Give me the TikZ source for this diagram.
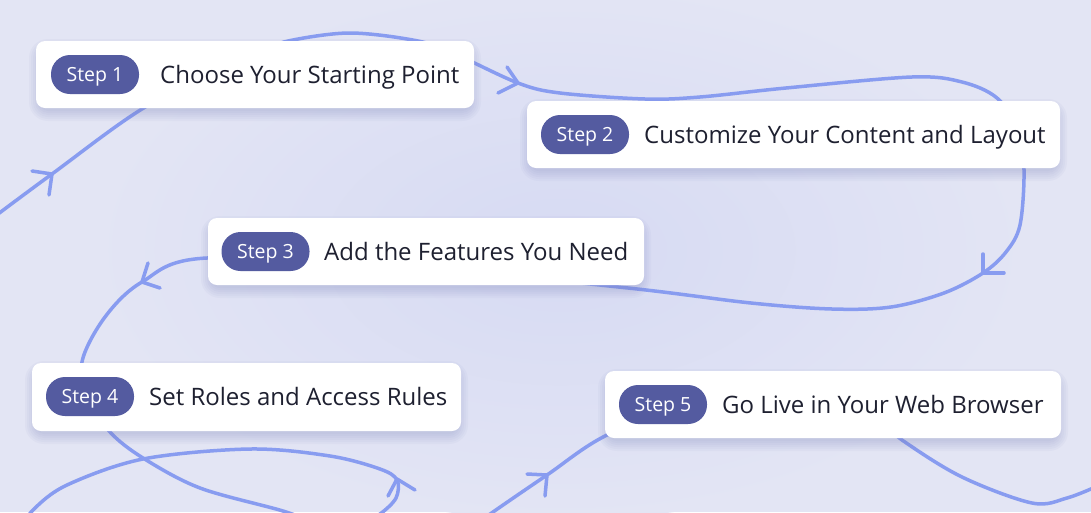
\documentclass[tikz,border=0pt]{standalone}
\usepackage{fontspec}
\setmainfont{Open Sans}
\definecolor{bg}{RGB}{227,229,244}
\definecolor{bgin}{RGB}{214,218,243}
\definecolor{flow}{RGB}{136,156,240}
\definecolor{pillc}{RGB}{84,91,160}
\definecolor{ink}{RGB}{30,32,48}
\definecolor{shadowc}{RGB}{120,128,185}
\begin{document}
\begin{tikzpicture}[x=1pt,y=-1pt,
  flowline/.style={draw=flow, line width=3.5pt, line cap=round, line join=round},
  card/.style={fill=white, rounded corners=9pt, inner sep=0pt},
  shadowlayer/.style={fill=shadowc, fill opacity=0.05},
  pillbox/.style={fill=pillc, rounded corners=19pt, minimum width=88pt, minimum height=39pt,
    inner sep=0pt, text=white, text height=14pt, text depth=0pt, font=\fontsize{19.5}{22}\selectfont},
  steptext/.style={anchor=west, inner sep=0pt, text=ink, text height=17pt, text depth=0pt,
    font=\fontsize{24}{28}\selectfont}]
\useasboundingbox (0,0) rectangle (1091,512);
\begin{scope}
\clip (0,0) rectangle (1091,512);
\fill[bg] (0,0) rectangle (1091,512);
\shade[inner color=bgin, outer color=bg] (560,250) ellipse [x radius=470, y radius=270];
% main flow
\draw[flowline] plot[smooth, tension=0.55] coordinates {(-10,220) (52,174) (147,106) (235,68) (270,50) (288,41) (350,33) (418,41) (455,54) (518,83) (560,93) (645,99) (700,97) (786,88) (912,77) (962,82) (997,98) (1018,130) (1024,170) (1020,225) (1006,252) (983,273) (944,293) (891,307) (832,309) (751,303) (628,288) (420,268) (207,258) (142,282) (105,317) (82,362) (90,400) (110,432) (143,458) (200,488) (283,511) (320,525)};
% loop
\draw[flowline] plot[smooth, tension=0.55] coordinates {(22,528) (33,510) (67,485) (143,459) (250,449) (330,456) (380,469) (397,480) (396,498) (380,514) (360,524)};
% to step 5 and beyond
\draw[flowline] plot[smooth, tension=0.55] coordinates {(480,522) (493,512) (547,475) (607,435) (700,400) (850,400) (902,440) (962,477) (1032,503) (1067,498) (1100,485)};
% arrowheads
\draw[flowline] (32,171) -- (52,174) -- (49,195);
\draw[flowline] (507,67) -- (518,83) -- (498,93);
\draw[flowline] (983,254) -- (983,273) -- (1004,273);
\draw[flowline] (148,263) -- (142,282) -- (160,288);
\draw[flowline] (415,490) -- (397,479) -- (388,496);
\draw[flowline] (527,474) -- (547,475) -- (545,496);
% soft shadows below the cards
\foreach \xa/\ya/\xb/\yb in {36/41/474/108, 527/101/1060/168, 208/218/644/285, 32/363/461/431, 605/371/1061/438}{
  \foreach \e in {0,2,4,6,8,10}{
    \pgfmathsetmacro\rr{9+\e}
    \fill[shadowlayer, rounded corners=\rr pt] (\xa-\e+3,\ya-\e+8) rectangle (\xb+\e-3,\yb+\e+3);
  }
}
\end{scope}
% cards
\node[card, minimum width=438pt, minimum height=67pt] (b1) at (255,74.5) {};
\node[card, minimum width=533pt, minimum height=67pt] (b2) at (793.5,134.5) {};
\node[card, minimum width=436pt, minimum height=67pt] (b3) at (426,251.5) {};
\node[card, minimum width=429pt, minimum height=68pt] (b4) at (246.5,397) {};
\node[card, minimum width=456pt, minimum height=67pt] (b5) at (833,404.5) {};
% pills
\node[pillbox] (p1) at (95,74.5) {Step 1};
\node[pillbox] (p2) at (585,134.5) {Step 2};
\node[pillbox] (p3) at (265.5,251.5) {Step 3};
\node[pillbox] (p4) at (90,396.5) {Step 4};
\node[pillbox] (p5) at (663,404.5) {Step 5};
% texts
\node[steptext] (t1) at (160,74.5) {Choose Your Starting Point};
\node[steptext] (t2) at (644,134.5) {Customize Your Content and Layout};
\node[steptext] (t3) at (324,251.5) {Add the Features You Need};
\node[steptext] (t4) at (149,396.5) {Set Roles and Access Rules};
\node[steptext] (t5) at (722,404.5) {Go Live in Your Web Browser};
\end{tikzpicture}
\end{document}
